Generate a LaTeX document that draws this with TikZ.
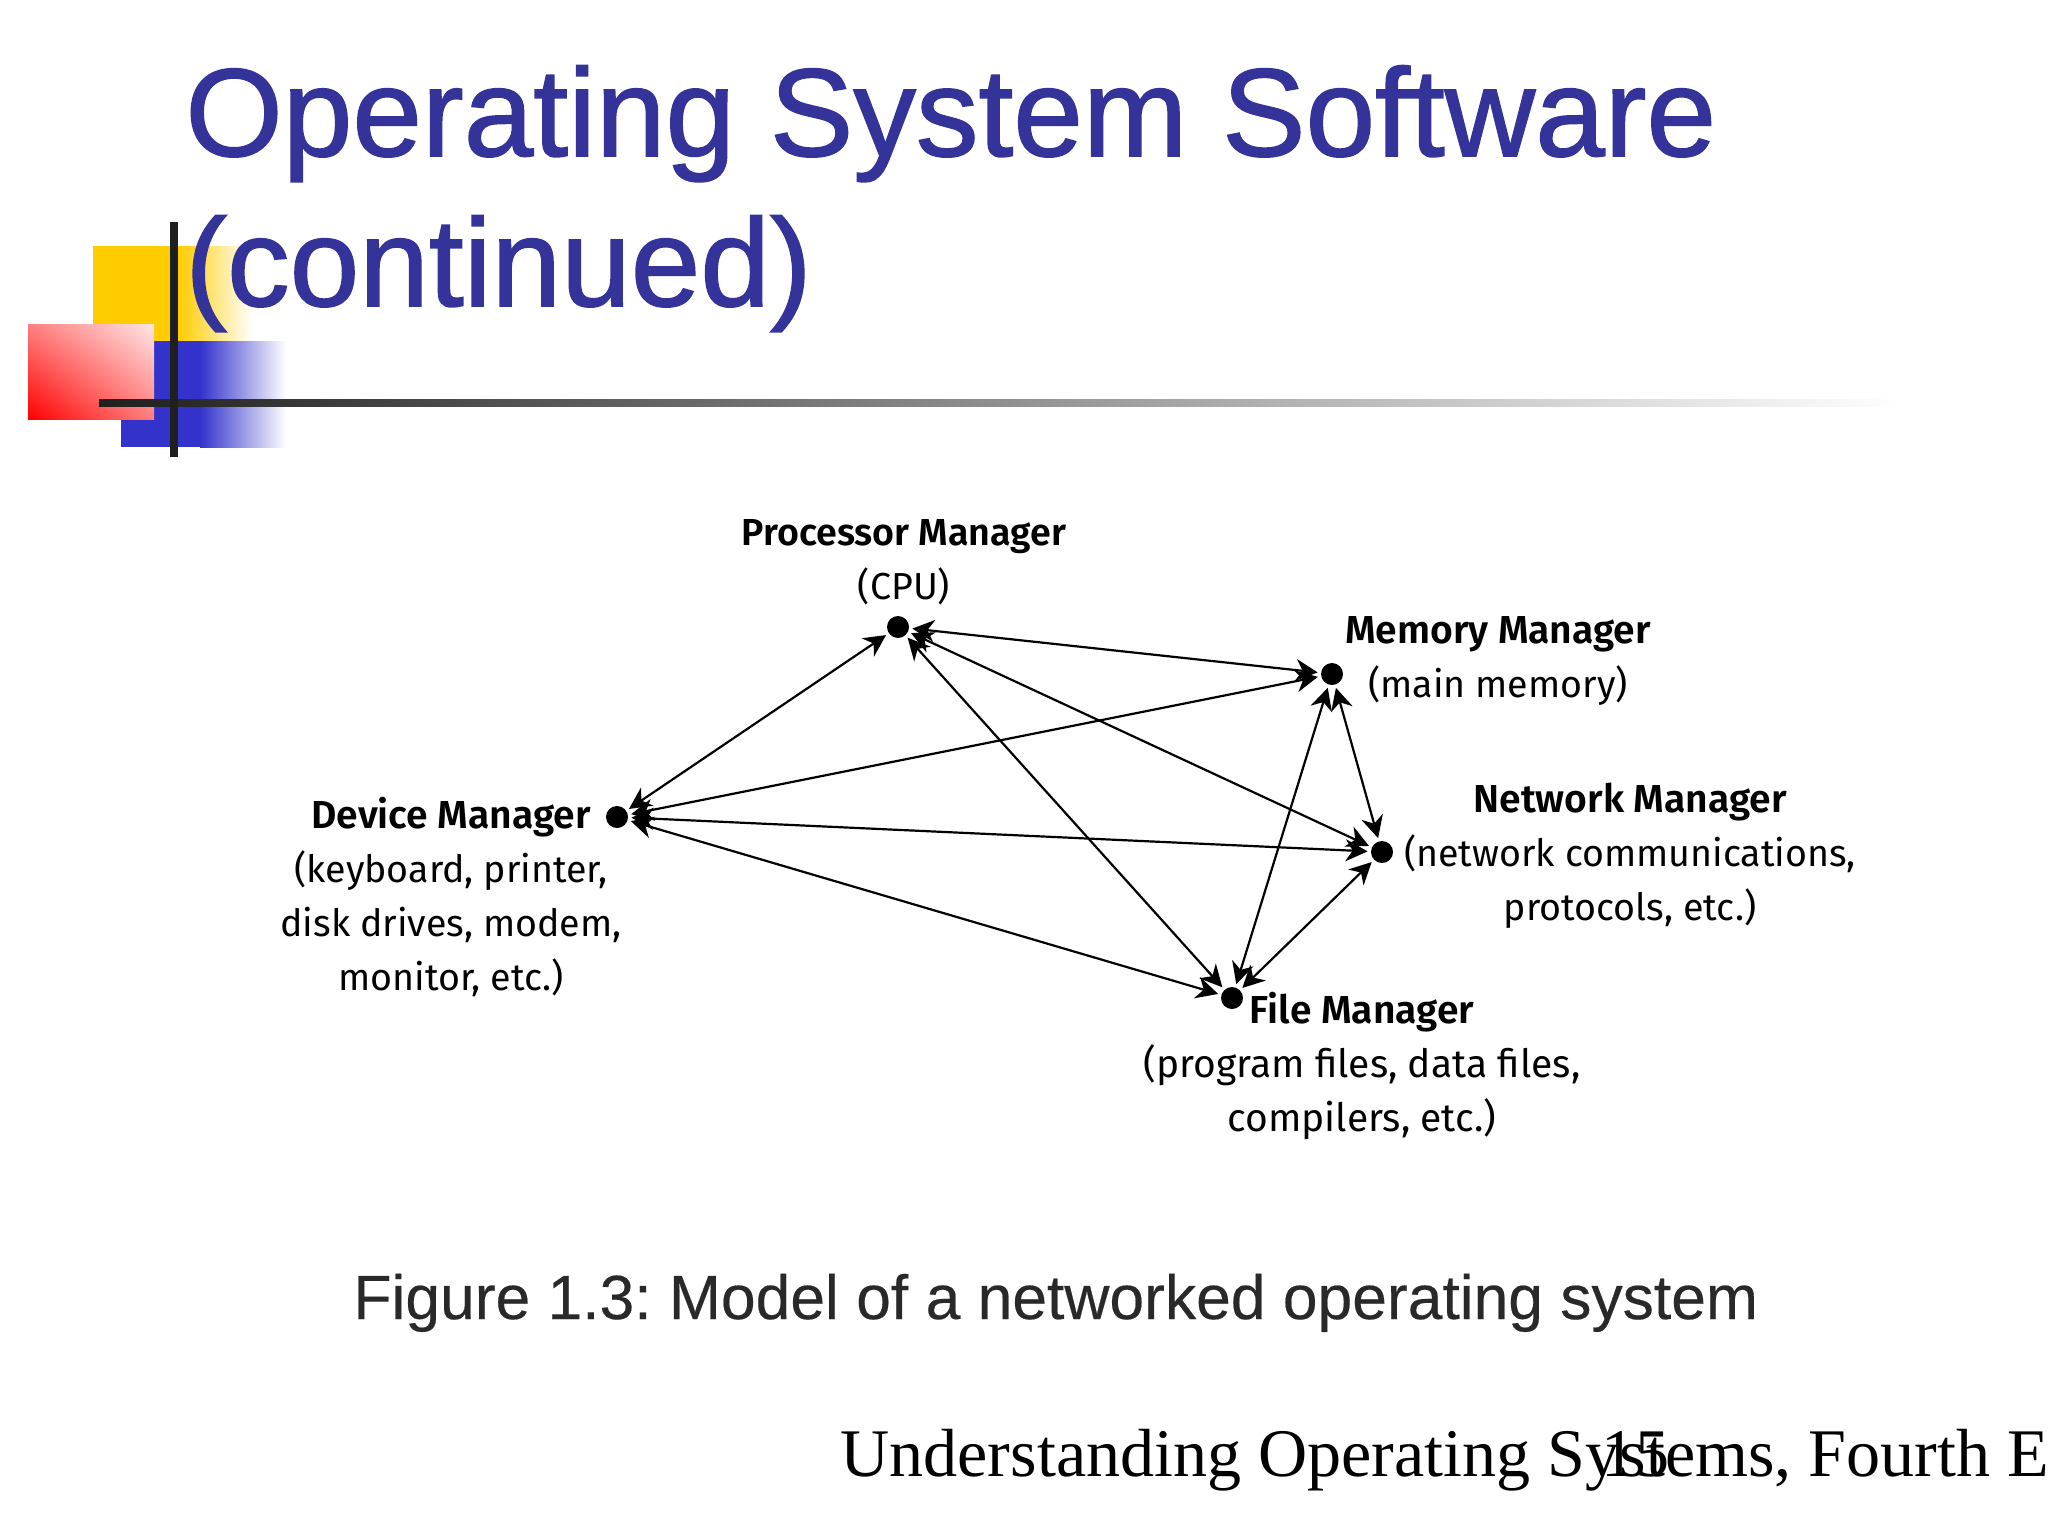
\documentclass[tikz,border=0pt]{standalone}
\usepackage{fontspec}
\setmainfont{Liberation Sans}
\newfontfamily\titleff[FakeBold=1.2]{Liberation Sans}
\newfontfamily\capff[FakeBold=0.3]{Liberation Sans}
\newfontfamily\serifff{Liberation Serif}
\newfontfamily\figff{Fira Sans}
\newfontfamily\figbf{Fira Sans SemiBold}
\usetikzlibrary{arrows.meta,shadings}
\definecolor{titleblue}{HTML}{333399}
\definecolor{deckyellow}{HTML}{FFCC00}
\definecolor{deckblue}{HTML}{3333CC}
\definecolor{deckdark}{HTML}{1F1F1F}
\definecolor{captiongrey}{HTML}{292929}
\tikzset{
  x=0.5pt,y=-0.5pt,
  dot/.style={circle,fill=black,inner sep=0pt,minimum size=11pt},
  link/.style={line width=1.1pt,{Stealth[length=11pt,width=11pt,inset=3.5pt]}-{Stealth[length=11pt,width=11pt,inset=3.5pt]},shorten <=1.5pt,shorten >=1.5pt},
  titletext/.style={anchor=base west,inner sep=0pt,text=titleblue,font=\titleff\fontsize{62.6}{62.6}\selectfont},
  lab/.style={align=center,inner sep=0pt,anchor=base,text=black,font=\figff\fontsize{18.8}{27}\selectfont},
  labwide/.style={lab,font=\figff\fontsize{19.5}{27}\selectfont},
}
\newcommand{\bd}[1]{{\figbf\fontsize{19.5}{27}\selectfont #1}}
\newcommand{\bdn}[1]{{\figbf #1}}
\begin{document}
\frenchspacing
\begin{tikzpicture}
\useasboundingbox (0,0) rectangle (2048,1536);
\clip (0,0) rectangle (2048,1536);
% deck decoration
\fill[deckyellow] (93,246) rectangle (178,341);
\shade[left color=deckyellow,right color=white] (178,246) rectangle (252,341);
\fill[deckblue] (121,341) rectangle (200,447);
\shade[left color=deckblue,right color=white] (200,341) rectangle (286,447);
\shade[lower left=red,upper right=white!90!red,upper left=red!50!white,lower right=red!50!white] (28,324) rectangle (154,419);
\shade[left color=deckdark,right color=white] (99,399) rectangle (1900,406);
\fill[deckdark] (170,222) rectangle (178,457);
% title
\node[titletext] (t1) at (185,156) {Operating System Software};
\node[titletext] (t2) at (185,306) {(continued)};
% graph
\node[dot] (P) at (898,627) {};
\node[dot] (D) at (617,817) {};
\node[dot] (M) at (1332,674) {};
\node[dot] (N) at (1382,852) {};
\node[dot] (F) at (1232,998) {};
\draw[link] (P)--(M);
\draw[link] (P)--(D);
\draw[link] (P)--(N);
\draw[link] (P)--(F);
\draw[link] (D)--(M);
\draw[link] (D)--(N);
\draw[link] (D)--(F);
\draw[link] (M)--(N);
\draw[link] (M)--(F);
\draw[link] (N)--(F);
\node[lab] (lp) at (904,599) {\bdn{Processor Manager}\\(CPU)};
\node[lab] (lm) at (1498,697) {\bd{Memory Manager}\\(main memory)};
\node[lab] (ln) at (1630,920) {\bd{Network Manager}\\(network communications,\\protocols, etc.)};
\node[lab] (ld) at (451,990) {\bd{Device Manager}\\(keyboard, printer,\\disk drives, modem,\\monitor, etc.)};
\node[labwide] (lf) at (1362,1131) {\bd{File Manager}\\(program files, data files,\\compilers, etc.)};
% caption and footer
\node[anchor=base west,inner sep=0pt,text=captiongrey,font=\capff\fontsize{31.2}{31.2}\selectfont] (cap) at (353,1319) {Figure 1.3: Model of a networked operating system};
\node[anchor=base west,inner sep=0pt,font=\serifff\fontsize{34.05}{34.05}\selectfont] (foot) at (840,1476) {Understanding Operating Systems, Fourth E};
\node[anchor=base west,inner sep=0pt,font=\serifff\fontsize{34.05}{34.05}\selectfont] (num) at (1601,1476) {15};
\end{tikzpicture}
\end{document}
